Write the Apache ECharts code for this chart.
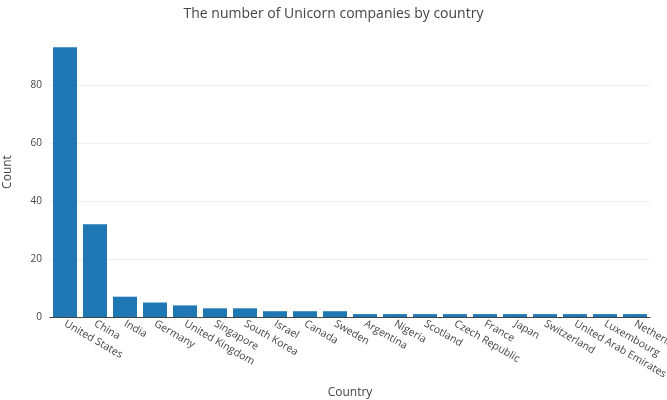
<!DOCTYPE html>
<html><head><meta charset="utf-8">
<script src="https://cdn.jsdelivr.net/npm/echarts@6/dist/echarts.min.js"></script>
<style>html,body{margin:0;padding:0;background:#fff}#c{width:667px;height:400px}</style>
</head><body><div id="c"></div>
<script>
const countries = ["United States","China","India","Germany","United Kingdom","Singapore","South Korea","Israel","Canada","Sweden","Argentina","Nigeria","Scotland","Czech Republic","France","Japan","Switzerland","United Arab Emirates","Luxembourg","Netherlands"];
const counts = [93,32,7,5,4,3,3,2,2,2,1,1,1,1,1,1,1,1,1,1];
const yTicks = [0,20,40,60,80];
const chart = echarts.init(document.getElementById('c'));
chart.setOption({
  animation:false,
  textStyle:{fontFamily:'Open Sans, sans-serif'},
  title:{text:'The number of Unicorn companies by country',left:'center',top:2,
    textStyle:{fontSize:14,fontWeight:'normal',color:'#444',fontFamily:'Open Sans'}},
  grid:{left:50,right:17,top:27,bottom:83,outerBoundsMode:'none',containLabel:false},
  xAxis:{type:'category',data:countries,name:'Country',nameLocation:'middle',nameGap:40,
    nameTextStyle:{color:'#444',fontSize:12},
    axisTick:{show:false},axisLine:{lineStyle:{color:'#444'}},
    axisLabel:{rotate:-30,interval:0,color:'#444',fontSize:10.5,margin:6,align:'left'}},
  yAxis:{type:'value',min:0,max:100,interval:20,name:'Count',nameLocation:'middle',nameGap:36,
    nameTextStyle:{color:'#444',fontSize:12},
    axisLabel:{color:'#444',fontSize:10,formatter:v=>yTicks.includes(v)?v:''},
    splitLine:{lineStyle:{color:['#eee','#eee','#eee','#eee','#eee','rgba(0,0,0,0)']}},axisLine:{show:false},axisTick:{show:false}},
  series:[{type:'bar',data:counts,barCategoryGap:'20%',itemStyle:{color:'#1f77b4'}}]
});
</script></body></html>
